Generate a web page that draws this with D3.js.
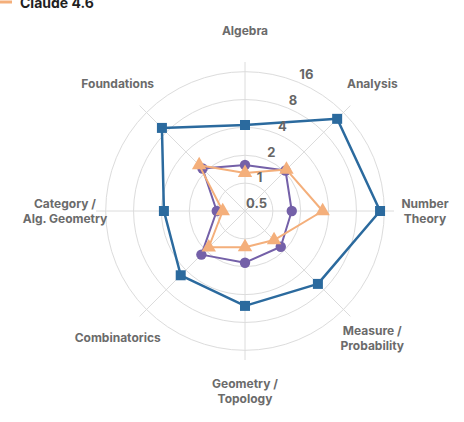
<!DOCTYPE html>
<html><head><meta charset="utf-8">
<script src="https://cdn.jsdelivr.net/npm/d3@7"></script>
<style>
html,body{margin:0;padding:0;background:#fff;}
svg{display:block;font-family:Inter,"Noto Sans",sans-serif;}
</style></head>
<body>
<svg id="chart" width="464" height="422"></svg>
<script>
const categories = [
  ["Algebra"],
  ["Analysis"],
  ["Number", "Theory"],
  ["Measure /", "Probability"],
  ["Geometry /", "Topology"],
  ["Combinatorics"],
  ["Category /", "Alg. Geometry"],
  ["Foundations"]
];
const blueValues   = [4.25, 12.8, 14.4, 6.5, 5.3, 4.8, 3.76, 9.3];
const purpleValues = [1.57, 2.08, 1.6, 1.76, 1.81, 2.32, 1.01, 2.23];
const orangeValues = [1.29, 2.15, 3.45, 1.39, 1.23, 1.79, 0.87, 2.51];
const tickValues = [0.5, 1, 2, 4, 8, 16];
const tickLabels = ["0.5", "1", "2", "4", "8", "16"];
const legendLabel = "Claude 4.6";

const svg = d3.select("#chart");
const cx = 245, cy = 211;
const r = d3.scaleLog().base(2).domain([0.5, 16]).range([0, 139.3]);
const angle = d3.scalePoint().domain(d3.range(categories.length)).range([0, 2*Math.PI*(categories.length-1)/categories.length]);
const pt = (i, rad) => [cx + rad*Math.sin(angle(i)), cy - rad*Math.cos(angle(i))];

const g = svg.append("g");
// grid circles
g.selectAll("circle.grid").data(tickValues.filter(v => v > 0.5)).enter().append("circle")
  .attr("cx", cx).attr("cy", cy).attr("r", d => r(d))
  .attr("fill", "none").attr("stroke", "#dcdcdc").attr("stroke-width", 1);
// spokes
g.selectAll("line.spoke").data(categories).enter().append("line")
  .attr("x1", cx).attr("y1", cy)
  .attr("x2", (d,i) => pt(i, 149)[0]).attr("y2", (d,i) => pt(i, 149)[1])
  .attr("stroke", "#dcdcdc").attr("stroke-width", 1);

// category labels
const lab = g.selectAll("text.cat").data(categories).enter().append("text")
  .attr("text-anchor", "middle")
  .attr("font-size", 12).attr("font-weight", 700).attr("fill", "#6b6b6b")
  .attr("x", (d,i) => pt(i, 180)[0]).attr("y", (d,i) => pt(i, 180)[1]);
lab.each(function(d){
  const t = d3.select(this);
  const n = d.length;
  d.forEach((line, k) => {
    t.append("tspan").attr("x", t.attr("x"))
      .attr("dy", k === 0 ? ((-(n-1)*15/2) + 4) : 15).text(line);
  });
});

const line = d3.line().x(d => d[0]).y(d => d[1]).curve(d3.curveLinearClosed);
function series(vals, color, width, marker) {
  const pts = vals.map((v,i) => pt(i, r(v)));
  g.append("path").attr("d", line(pts)).attr("fill", "none")
    .attr("stroke", color).attr("stroke-width", width).attr("stroke-linejoin", "round");
  const sym = d3.symbol().type(marker.type).size(marker.size);
  g.selectAll(null).data(pts).enter().append("path")
    .attr("d", sym).attr("transform", d => `translate(${d[0]},${d[1]})`)
    .attr("fill", color);
}
series(blueValues, "#2b6a9e", 2.5, {type: d3.symbolSquare, size: 100});
series(purpleValues, "#7460a8", 2, {type: d3.symbolCircle, size: 85});
series(orangeValues, "#f4af7b", 2, {type: d3.symbolTriangle, size: 90});

// tick labels
g.selectAll("text.tick").data(tickValues).enter().append("text")
  .attr("x", (d) => cx + r(d)*Math.sin(Math.PI/8) + 1)
  .attr("y", (d) => cy - r(d)*Math.cos(Math.PI/8) - 3)
  .attr("font-size", 13).attr("font-weight", 700).attr("fill", "#666")
  .text((d,i) => tickLabels[i]);

// legend (partially cut at top, as in the reference)
const leg = svg.append("g");
leg.append("line").attr("x1", -6).attr("x2", 12).attr("y1", 2).attr("y2", 2)
  .attr("stroke", "#f4af7b").attr("stroke-width", 3);
leg.append("text").attr("x", 20).attr("y", 8)
  .attr("font-size", 14).attr("font-weight", 700).attr("fill", "#1f1f1f")
  .text(legendLabel);
</script>
</body></html>
